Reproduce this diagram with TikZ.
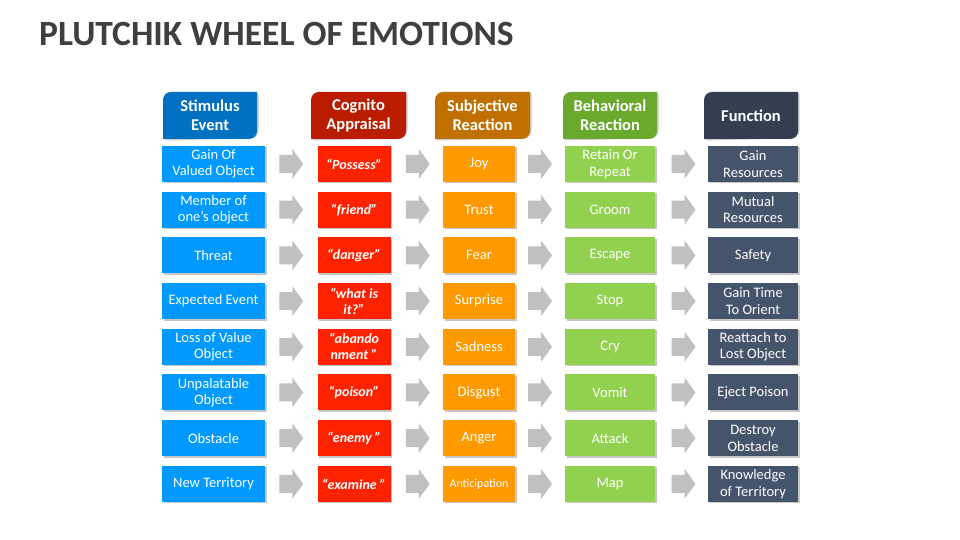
\documentclass[tikz,border=0pt]{standalone}
\usepackage{fontspec}
\setmainfont{Carlito}
\usetikzlibrary{calc}
\definecolor{hA}{HTML}{0070C0}\definecolor{hB}{HTML}{BA1C00}\definecolor{hC}{HTML}{C07000}
\definecolor{hD}{HTML}{6AA82E}\definecolor{hE}{HTML}{333F50}
\definecolor{cA}{HTML}{0099FF}\definecolor{cB}{HTML}{FF2200}\definecolor{cC}{HTML}{FF9900}
\definecolor{cD}{HTML}{92D050}\definecolor{cE}{HTML}{44546A}
\definecolor{arr}{HTML}{C0C0C0}\definecolor{ttl}{HTML}{3F3F3F}
\tikzset{
 cell/.style={minimum height=36pt, inner sep=1pt, align=center, text=white, font=\fontsize{14.5}{16.5}\selectfont},
 htxt/.style={minimum height=47pt, inner sep=0pt, align=center, text=white, font=\bfseries\fontsize{16.5}{19}\selectfont},
 garrow/.style={fill=arr},
 shd/.style={fill=black!22}
}
\newcommand{\garr}[2]{% name, position
 \coordinate (#1) at (#2);
 \fill[garrow, shift={(#1)}] (-12,-9) -- (1,-9) -- (1,-15) -- (12,0) -- (1,15) -- (1,9) -- (-12,9) -- cycle;}
\newcommand{\hdr}[5]{% name, x1, x2, color, text
 \fill[black!20] (#2+1.5,399.5) -- (#2+1.5,440) arc[start angle=180,end angle=90,radius=8] -- (#3+1.5,448-1.5) -- (#3+1.5,409.5) arc[start angle=0,end angle=-90,radius=8] -- cycle;
 \fill[#4] (#2,401) -- (#2,440) arc[start angle=180,end angle=90,radius=8] -- (#3,448) -- (#3,409) arc[start angle=0,end angle=-90,radius=8] -- cycle;
 \node[htxt] (#1) at ({(#2+#3)/2},424.5) {#5};}
\begin{document}
\begin{tikzpicture}[x=1pt,y=1pt]
\useasboundingbox (0,0) rectangle (960,540);
\fill[white] (0,0) rectangle (960,540);
\node[anchor=base west, inner sep=0pt, text=ttl, font=\bfseries\fontsize{35.5}{36}\selectfont] (title) at (39,494) {PLUTCHIK WHEEL OF EMOTIONS};
\hdr{h1}{163}{257}{hA}{Stimulus\\Event}
\hdr{h2}{311}{406}{hB}{Cognito\\Appraisal}
\hdr{h3}{435}{530}{hC}{Subjective\\Reaction}
\hdr{h4}{563}{657}{hD}{Behavioral\\Reaction}
\hdr{h5}{704}{798}{hE}{Function}
\foreach \i/\a/\b/\c/\d/\e in {
 0/{Gain Of\\Valued Object}/{“Possess”}/{Joy}/{Retain Or\\Repeat}/{Gain\\Resources},
 1/{Member of\\one’s object}/{“friend”}/{Trust}/{Groom}/{Mutual\\Resources},
 2/{Threat}/{“danger”}/{Fear}/{Escape}/{Safety},
 3/{Expected Event}/{“what is\\it?”}/{Surprise}/{Stop}/{Gain Time\\To Orient},
 4/{Loss of Value\\Object}/{“abando\\nment ”}/{Sadness}/{Cry}/{Reattach to\\Lost Object},
 5/{Unpalatable\\Object}/{“poison”}/{Disgust}/{Vomit}/{Eject Poison},
 6/{Obstacle}/{“enemy ”}/{Anger}/{Attack}/{Destroy\\Obstacle},
 7/{New Territory}/{“examine ”}/{\fontsize{12}{13}\selectfont Anticipation}/{Map}/{Knowledge\\of Territory}}{
 \pgfmathsetmacro\yy{376-45.7*\i}
 \fill[shd] (163.5,\yy-19.5) rectangle (266.5,\yy+16.5);
 \fill[shd] (318.5,\yy-19.5) rectangle (391.5,\yy+16.5);
 \fill[shd] (444.5,\yy-19.5) rectangle (516.5,\yy+16.5);
 \fill[shd] (566.5,\yy-19.5) rectangle (656.5,\yy+16.5);
 \fill[shd] (709.5,\yy-19.5) rectangle (799.5,\yy+16.5);
 \node[cell, fill=cA, minimum width=103pt] (a\i) at (213.5,\yy) {\a};
 \node[cell, fill=cB, minimum width=73pt, font=\itshape\bfseries\fontsize{14}{16}\selectfont] (b\i) at (354,\yy) {\b};
 \node[cell, fill=cC, minimum width=72pt] (c\i) at (479,\yy) {\c};
 \node[cell, fill=cD, minimum width=90pt] (d\i) at (610,\yy) {\d};
 \node[cell, fill=cE, minimum width=90pt] (e\i) at (753,\yy) {\e};
 \garr{p\i}{$(a\i.east)!0.5!(b\i.west)$}
 \garr{q\i}{$(b\i.east)!0.5!(c\i.west)+(1,0)$}
 \garr{r\i}{$(c\i.east)!0.5!(d\i.west)$}
 \garr{s\i}{$(d\i.east)!0.5!(e\i.west)+(2,0)$}
}
\end{tikzpicture}
\end{document}
